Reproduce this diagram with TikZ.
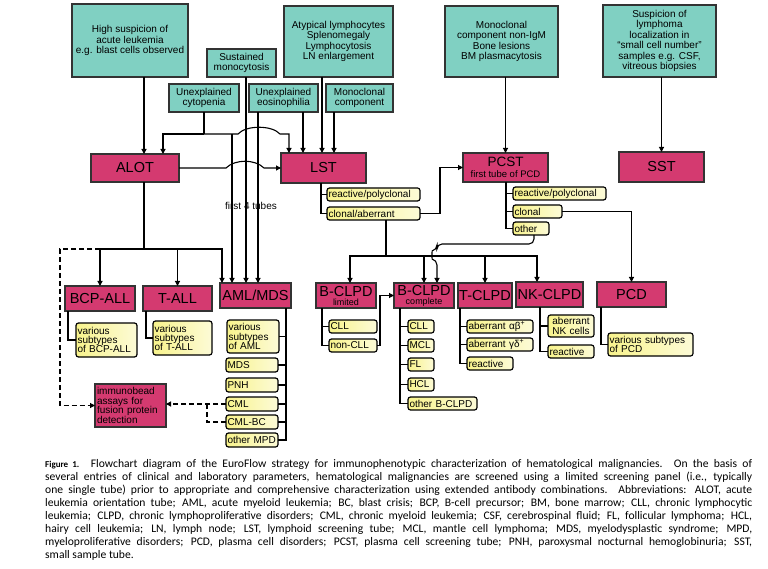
\documentclass[tikz,border=0pt]{standalone}
\usepackage{fontspec}
\setmainfont{Liberation Sans}
\newfontfamily\capfont{Carlito}
\usepackage{tikz}
\usetikzlibrary{arrows.meta}

\definecolor{entryteal}{RGB}{128,208,194}
\definecolor{tubered}{RGB}{212,58,112}
\definecolor{resultyellow}{RGB}{248,243,140}
\newcommand{\capline}[1]{\makebox[707pt][s]{#1}}

\tikzset{
  entry/.style={draw=black!80, line width=1.3pt, fill=entryteal, anchor=north west, inner sep=0pt, outer sep=0pt, align=center, font=\fontsize{10}{10.5}\selectfont},
  tube/.style={draw=black!80, line width=1.3pt, fill=tubered, anchor=north west, inner sep=0pt, outer sep=0pt, align=center, font=\fontsize{14.5}{15}\selectfont},
  result/.style={draw=black, line width=1.2pt, rounded corners=2.5pt, left color=resultyellow, right color=resultyellow!35, anchor=north west, inner xsep=1.5pt, inner ysep=0pt, outer sep=0pt, align=left, font=\fontsize{10}{9.4}\selectfont},
  link/.style={line width=1.1pt},
  arr/.style={line width=1.1pt, -{Triangle[length=5pt,width=5pt]}},
  dashline/.style={dash pattern=on 5pt off 3pt}
}

\begin{document}
\begin{tikzpicture}[x=1pt,y=-1pt]
        \useasboundingbox (0,0) rectangle (768,569);

        % Entry boxes
        \node[entry, minimum width=116pt, minimum height=73pt] (hs) at (72,4) {High suspicion of\\acute leukemia\\e.g. blast cells observed};
        \node[entry, minimum width=109pt, minimum height=71pt] (atyp) at (284,6) {Atypical lymphocytes\\Splenomegaly\\Lymphocytosis\\LN enlargement};
        \node[entry, minimum width=113pt, minimum height=71pt] (nonigm) at (445,6) {Monoclonal\\component non-IgM\\Bone lesions\\BM plasmacytosis};
        \node[entry, minimum width=113pt, minimum height=72pt] (lymsus) at (603,5) {Suspicion of\\lymphoma\\localization in\\``small cell number''\\samples e.g. CSF,\\vitreous biopsies};
        \node[entry, minimum width=69pt, minimum height=28pt] (mono) at (207,49) {Sustained\\monocytosis};
        \node[entry, minimum width=70pt, minimum height=28pt] (cyto) at (169,84) {Unexplained\\cytopenia};
        \node[entry, minimum width=69pt, minimum height=28pt] (eos) at (249,84) {Unexplained\\eosinophilia};
        \node[entry, minimum width=67pt, minimum height=28pt] (mcomp) at (326,84) {Monoclonal\\component};

        % Screening tubes
        \node[tube, minimum width=88pt, minimum height=28pt] (alot) at (91,154) {ALOT};
        \node[tube, minimum width=85pt, minimum height=30pt] (lst) at (281,153) {LST};
        \node[tube, minimum width=85pt, minimum height=29pt, font=\fontsize{13.5}{14}\selectfont] (pcst) at (463,153) {PCST\\[-3pt]{\fontsize{9.5}{10}\selectfont first tube of PCD}};
        \node[tube, minimum width=85pt, minimum height=30pt] (sst) at (619,152) {SST};

        % Diagnostic panels
        \node[tube, minimum width=70pt, minimum height=25pt] (bcpall) at (65,286) {BCP-ALL};
        \node[tube, minimum width=69pt, minimum height=25pt] (tall) at (143,286) {T-ALL};
        \node[tube, minimum width=71pt, minimum height=25pt] (amlmds) at (220,283) {AML/MDS};
        \node[tube, minimum width=60pt, minimum height=25pt] (bclpdl) at (316,283) {B-CLPD\\[-6pt]{\fontsize{9}{9}\selectfont limited}};
        \node[tube, minimum width=60pt, minimum height=25pt] (bclpdc) at (394,283) {B-CLPD\\[-6pt]{\fontsize{9}{9}\selectfont complete}};
        \node[tube, minimum width=54pt, minimum height=25pt] (tclpd) at (458,283) {T-CLPD};
        \node[tube, minimum width=67pt, minimum height=25pt] (nkclpd) at (516,282) {NK-CLPD};
        \node[tube, minimum width=69pt, minimum height=25pt] (pcd) at (597,282) {PCD};
        \node[tube, minimum width=71pt, minimum height=43pt, align=left, text width=67pt, inner xsep=2pt, font=\fontsize{10}{9.6}\selectfont] (immuno) at (95,384) {immunobead\\assays for\\fusion protein\\detection};

        % Results of ALOT panels
        \node[result, text width=58pt, minimum height=34pt] (subbcp) at (76,323) {various\\subtypes\\of BCP-ALL};
        \node[result, text width=56pt, minimum height=34pt] (subtall) at (153,321) {various\\subtypes\\of T-ALL};
        \node[result, text width=49pt, minimum height=33pt] (subaml) at (227,320) {various\\subtypes\\of AML};
        \node[result, text width=49pt, minimum height=14pt] (mds) at (226,358) {MDS};
        \node[result, text width=49pt, minimum height=14pt] (pnh) at (226,378) {PNH};
        \node[result, text width=49pt, minimum height=14pt] (cml) at (226,397) {CML};
        \node[result, text width=49pt, minimum height=14pt] (cmlbc) at (226,415) {CML-BC};
        \node[result, text width=49pt, minimum height=14pt] (ompd) at (226,433) {other MPD};

        % Results of LST and PCST
        \node[result, text width=90pt, minimum height=13pt] (lreact) at (327,188) {reactive/polyclonal};
        \node[result, text width=90pt, minimum height=13pt] (lclonal) at (327,207) {clonal/aberrant};
        \node[result, text width=90pt, minimum height=13pt] (preact) at (513,187) {reactive/polyclonal};
        \node[result, text width=46pt, minimum height=13pt] (pclonal) at (513,205) {clonal};
        \node[result, text width=33pt, minimum height=13pt] (pother) at (513,222) {other};

        % Results of CLPD and PCD panels
        \node[result, text width=45pt, minimum height=13pt] (lcll) at (329,320) {CLL};
        \node[result, text width=45pt, minimum height=13pt] (lnoncll) at (329,339) {non-CLL};
        \node[result, text width=23pt, minimum height=13pt] (ccll) at (408,320) {CLL};
        \node[result, text width=23pt, minimum height=13pt] (cmcl) at (408,339) {MCL};
        \node[result, text width=23pt, minimum height=13pt] (cfl) at (408,358) {FL};
        \node[result, text width=23pt, minimum height=13pt] (chcl) at (408,378) {HCL};
        \node[result, text width=66pt, minimum height=13pt] (cother) at (408,397) {other B-CLPD};
        \node[result, text width=63pt, minimum height=13pt] (tab) at (467,320) {aberrant αβ\textsuperscript{+}};
        \node[result, text width=63pt, minimum height=13pt] (tgd) at (467,338) {aberrant γδ\textsuperscript{+}};
        \node[result, text width=43pt, minimum height=13pt] (treact) at (467,357) {reactive};
        \node[result, text width=43pt, minimum height=22pt, align=center] (nkab) at (548,315) {aberrant\\NK cells};
        \node[result, text width=43pt, minimum height=13pt] (nkreact) at (548,345) {reactive};
        \node[result, text width=82pt, minimum height=23pt] (subpcd) at (608,333) {various subtypes\\of PCD};

        \node[font=\fontsize{10}{10}\selectfont] (tubes4) at (251,206) {first 4 tubes};

        % Connector columns
        \coordinate (hsX) at (144,0);
        \coordinate (cyJ) at (204,134);
        \coordinate (alotIn) at (163,0);
        \coordinate (amlA) at (222,0);
        \coordinate (amlB) at (232,134);
        \coordinate (amlC) at (246,0);
        \coordinate (amlD) at (258,0);
        \coordinate (hopA) at (238,134);
        \coordinate (hopB) at (280,134);
        \coordinate (lstA) at (289,0);
        \coordinate (lstB) at (303,0);
        \coordinate (lstC) at (322,0);
        \coordinate (lstD) at (334,0);
        \coordinate (hopC) at (226,168);
        \coordinate (hopD) at (264,168);
        \coordinate (alJ) at (144,249);
        \coordinate (dashC) at (60,249);
        \coordinate (amlBus) at (286,0);
        \coordinate (cmlJ) at (207,0);
        \coordinate (bcpT) at (68,0);
        \coordinate (tallT) at (146,0);
        \coordinate (lstT) at (321,0);
        \coordinate (pcstC) at (440,0);
        \coordinate (clJ) at (386,256);
        \coordinate (bclA) at (350,0);
        \coordinate (nkA) at (537,0);
        \coordinate (pcT) at (506,0);
        \coordinate (poJ) at (534,244);
        \coordinate (bccA) at (437,0);
        \coordinate (blT) at (322,0);
        \coordinate (ncC) at (380,0);
        \coordinate (bcT) at (400,0);
        \coordinate (tcT) at (460,0);
        \coordinate (nkT) at (540,0);
        \coordinate (pdT) at (601,0);

        % Entries into the screening tubes
        \draw[arr] (hs.south -| hsX) -- (alot.north -| hsX);
        \draw[link] (cyto.south) -- (cyJ);
        \draw[arr] (cyJ) -| (alot.north -| alotIn);
        \draw[arr] (cyJ) -- (hopA) .. controls +(8,-9) and +(-8,-9) .. (hopB) -| (lst.north -| lstA);
        \draw[arr] (amlB) -- (amlmds.north -| amlB);
        \draw[arr] (mono.south -| amlC) -- (amlmds.north -| amlC);
        \draw[arr] (eos.south -| amlD) -- (amlmds.north -| amlD);
        \draw[arr] (eos.south -| lstB) -- (lst.north -| lstB);
        \draw[arr] (atyp.south -| lstC) -- (lst.north -| lstC);
        \draw[arr] (mcomp.south -| lstD) -- (lst.north -| lstD);
        \draw[arr] (alot.east) -- (hopC) .. controls +(9,-9) and +(-9,-9) .. (hopD) -- (lst.west);
        \draw[arr] (nonigm.south -| pcst.north) -- (pcst.north);
        \draw[arr] (lymsus.south -| sst.north) -- (sst.north);

        % ALOT branches
        \draw[link] (alot.south -| alJ) -- (alJ);
        \draw[arr] (alJ) -| (bcpall.north);
        \draw[arr] (alJ) -| (tall.north);
        \draw[arr] (alJ) -| (amlmds.north -| amlA);
        \draw[arr, dashline] (bcpall.north |- alJ) -- (dashC) |- (immuno.west);
        \draw[link] (bcpall.south -| bcpT) |- (subbcp.west);
        \draw[link] (tall.south -| tallT) |- (subtall.west);

        % AML/MDS subtypes
        \draw[link] (amlmds.south -| amlBus) |- (ompd.east);
        \draw[link] (subaml.east) -- (subaml.east -| amlBus);
        \draw[link] (mds.east) -- (mds.east -| amlBus);
        \draw[link] (pnh.east) -- (pnh.east -| amlBus);
        \draw[link] (cml.east) -- (cml.east -| amlBus);
        \draw[link] (cmlbc.east) -- (cmlbc.east -| amlBus);
        \draw[arr, dashline] (cml.west) -- (immuno.east |- cml.west);
        \draw[link, dashline] (cmlbc.west) -| (cml.west -| cmlJ);

        % LST outcomes
        \draw[link] (lst.south -| lstT) |- (lclonal.west);
        \draw[link] (lst.south -| lstT) |- (lreact.west);
        \draw[arr] (lclonal.east) -| (pcst.west -| pcstC) -- (pcst.west);
        \draw[link] (lclonal.south -| clJ) -- (clJ);
        \draw[arr] (clJ) -| (bclpdl.north -| bclA);
        \draw[arr] (clJ) -| (bclpdc.north);
        \draw[arr] (clJ) -| (tclpd.north);
        \draw[arr] (clJ) -| (nkclpd.north -| nkA);

        % PCST outcomes
        \draw[link] (pcst.south -| pcT) |- (pother.west);
        \draw[link] (pcst.south -| pcT) |- (preact.west);
        \draw[link] (pcst.south -| pcT) |- (pclonal.west);
        \draw[arr] (pclonal.east) -| (pcd.north);
        \draw[arr, rounded corners=5pt] (pother.south -| poJ) -- (poJ) -- (poJ -| bccA) -- ++(0,6) .. controls +(-5,1) and +(-5,-1) .. ++(0,10) -- (bclpdc.north -| bccA);

        % CLPD and PCD subtypes
        \draw[link] (bclpdl.south -| blT) |- (lnoncll.west);
        \draw[link] (bclpdl.south -| blT) |- (lcll.west);
        \draw[arr] (lnoncll.east) -| (bclpdc.west -| ncC) -- (bclpdc.west);
        \draw[link] (bclpdc.south -| bcT) |- (cother.west);
        \draw[link] (bclpdc.south -| bcT) |- (ccll.west);
        \draw[link] (bclpdc.south -| bcT) |- (cmcl.west);
        \draw[link] (bclpdc.south -| bcT) |- (cfl.west);
        \draw[link] (bclpdc.south -| bcT) |- (chcl.west);
        \draw[link] (tclpd.south -| tcT) |- (treact.west);
        \draw[link] (tclpd.south -| tcT) |- (tab.west);
        \draw[link] (tclpd.south -| tcT) |- (tgd.west);
        \draw[link] (nkclpd.south -| nkT) |- (nkreact.west);
        \draw[link] (nkclpd.south -| nkT) |- (nkab.west);
        \draw[link] (pcd.south -| pdT) |- (subpcd.west);

        % Caption
        \node[anchor=north west, inner sep=0pt, align=left, font=\capfont\fontsize{11.6}{13}\selectfont] (caption) at (45,459) {%
\capline{\textbf{\small Figure 1.}\quad Flowchart diagram of the EuroFlow strategy for immunophenotypic characterization of hematological malignancies. On the basis of}\\
\capline{several entries of clinical and laboratory parameters, hematological malignancies are screened using a limited screening panel (i.e., typically}\\
\capline{one single tube) prior to appropriate and comprehensive characterization using extended antibody combinations. Abbreviations: ALOT, acute}\\
\capline{leukemia orientation tube; AML, acute myeloid leukemia; BC, blast crisis; BCP, B-cell precursor; BM, bone marrow; CLL, chronic lymphocytic}\\
\capline{leukemia; CLPD, chronic lymphoproliferative disorders; CML, chronic myeloid leukemia; CSF, cerebrospinal fluid; FL, follicular lymphoma; HCL,}\\
\capline{hairy cell leukemia; LN, lymph node; LST, lymphoid screening tube; MCL, mantle cell lymphoma; MDS, myelodysplastic syndrome; MPD,}\\
\capline{myeloproliferative disorders; PCD, plasma cell disorders; PCST, plasma cell screening tube; PNH, paroxysmal nocturnal hemoglobinuria; SST,}\\
small sample tube.};

\end{tikzpicture}
\end{document}
